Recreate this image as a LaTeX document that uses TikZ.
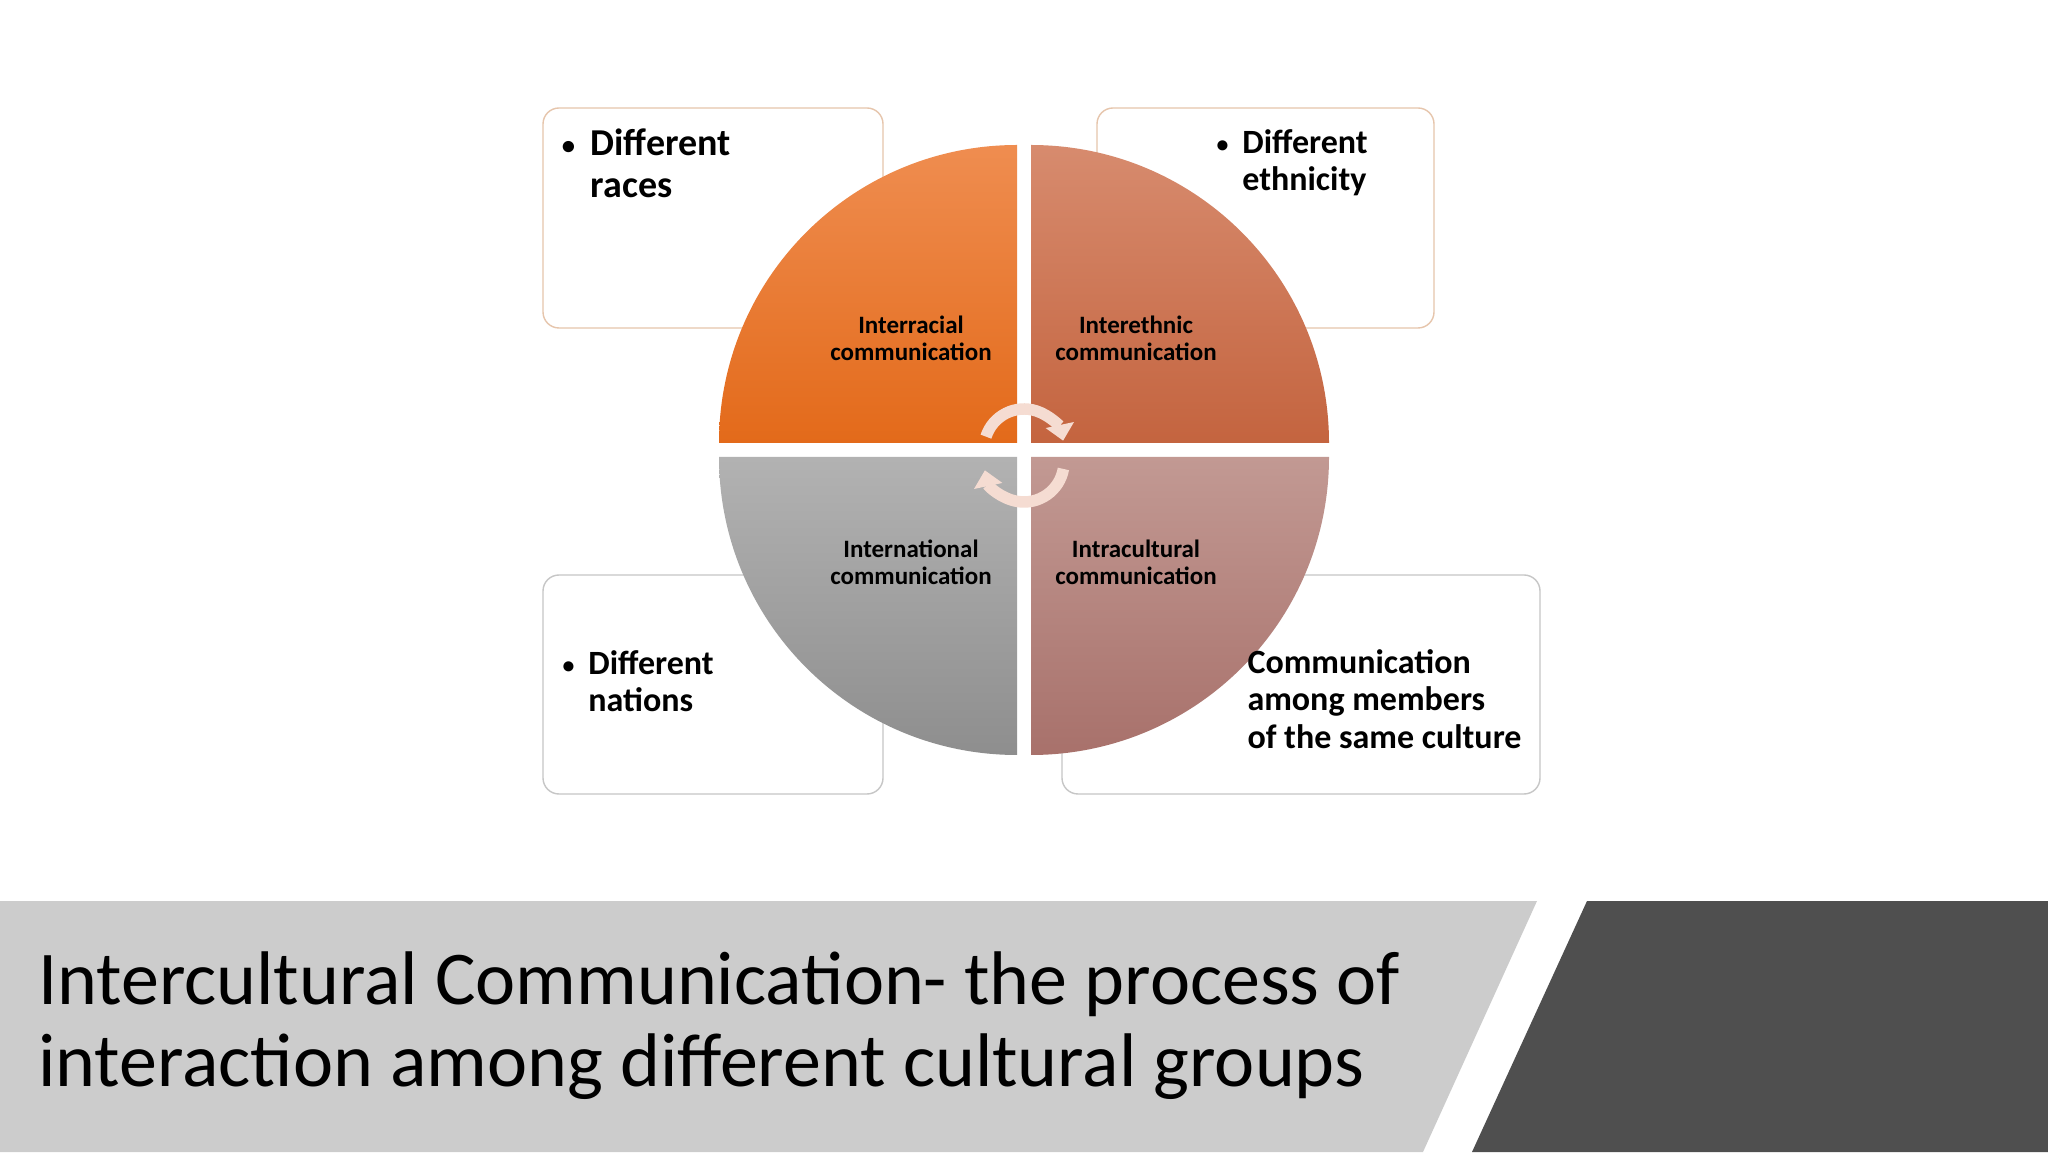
\documentclass[tikz,border=0pt]{standalone}
\usepackage{fontspec}
\setmainfont{Carlito}
\usetikzlibrary{arrows.meta}
\definecolor{banlight}{HTML}{CCCCCC}
\definecolor{bandark}{HTML}{4F4F4F}
\definecolor{raceTop}{HTML}{EF8D50}
\definecolor{raceBot}{HTML}{E36A1A}
\definecolor{ethTop}{HTML}{D78B6E}
\definecolor{ethBot}{HTML}{C4643F}
\definecolor{natTop}{HTML}{B2B2B2}
\definecolor{natBot}{HTML}{8E8E8E}
\definecolor{culTop}{HTML}{C29993}
\definecolor{culBot}{HTML}{A8716B}
\definecolor{tanline}{HTML}{E6C5AC}
\definecolor{greyline}{HTML}{C6C6C6}
\definecolor{cycpink}{HTML}{F5DCD2}
\newcommand{\bul}{\makebox[0.82em][l]{\hspace{0.06em}\raisebox{0.03em}{\scalebox{0.7}{\textbullet}}}}
\newcommand{\ind}{\hspace*{0.82em}}
\tikzset{>={Triangle[length=16pt,width=28pt]},
  box/.style={rectangle,rounded corners=16pt,fill=white,line width=1.4pt,inner sep=0pt},
  quad/.style={draw=none},
  lbl/.style={align=center,inner sep=0pt,font=\fontsize{25}{27}\selectfont\bfseries},
  note/.style={anchor=north west,align=left,inner sep=0pt,font=\fontsize{34}{37.5}\selectfont\bfseries},
  title/.style={anchor=north west,align=left,inner sep=0pt,font=\fontsize{76}{82}\selectfont},
  cyc/.style={draw=cycpink,line width=11.5pt}}

\begin{document}
\begin{tikzpicture}[x=1pt,y=1pt]
\useasboundingbox (0,0) rectangle (2048,1152);
\fill[white] (0,0) rectangle (2048,1152);
\fill[banlight] (0,0) -- (0,251) -- (1537,251) -- (1423,0) -- cycle;
\fill[bandark] (1472,0) -- (1587,251) -- (2048,251) -- (2048,0) -- cycle;
\node[title] (T) at (38,200) {Intercultural Communication- the process of\\interaction among different cultural groups};

\node[box,draw=tanline,minimum width=340pt,minimum height=220pt] (RB) at (713,934) {};
\node[box,draw=tanline,minimum width=337pt,minimum height=220pt] (EB) at (1265.5,934) {};
\node[box,draw=greyline,minimum width=340pt,minimum height=219pt] (NB) at (713,467.5) {};
\node[box,draw=greyline,minimum width=478pt,minimum height=219pt] (CB) at (1301,467.5) {};

\shade[quad,top color=raceTop,bottom color=raceBot] (1017,709) -- (719,709) arc[start angle=180,end angle=90,radius=298] -- cycle;
\shade[quad,top color=ethTop,bottom color=ethBot] (1031,709) -- (1031,1007) arc[start angle=90,end angle=0,radius=298] -- cycle;
\shade[quad,top color=natTop,bottom color=natBot] (1017,695) -- (1017,397) arc[start angle=270,end angle=180,radius=298] -- cycle;
\shade[quad,top color=culTop,bottom color=culBot] (1031,695) -- (1329,695) arc[start angle=0,end angle=-90,radius=298] -- cycle;

\node[lbl] (Qrace) at (911,814) {Interracial\\communication};
\node[lbl] (Qeth) at (1136,814) {Interethnic\\communication};
\node[lbl] (Qnat) at (911,590) {International\\communication};
\node[lbl] (Qcul) at (1136,590) {Intracultural\\communication};

\draw[cyc,->] ([shift={(162:40)}]1024,703) arc[start angle=162,end angle=12,radius=40];
\draw[cyc,->] ([shift={(-10:40)}]1024,690) arc[start angle=-10,end angle=-168,radius=40];

\node[note,font=\fontsize{38}{42}\selectfont\bfseries] (Rtxt) at ([xshift=17pt,yshift=-21pt]RB.north west) {\bul Different\\\ind races};
\node[note] (Etxt) at ([xshift=118pt,yshift=-22pt]EB.north west) {\bul Different\\\ind ethnicity};
\node[note] (Ntxt) at ([xshift=18pt,yshift=-76pt]NB.north west) {\bul Different\\\ind nations};
\node[note] (Ctxt) at ([xshift=186pt,yshift=-75pt]CB.north west) {Communication\\among members\\of the same culture};
\end{tikzpicture}
\end{document}
